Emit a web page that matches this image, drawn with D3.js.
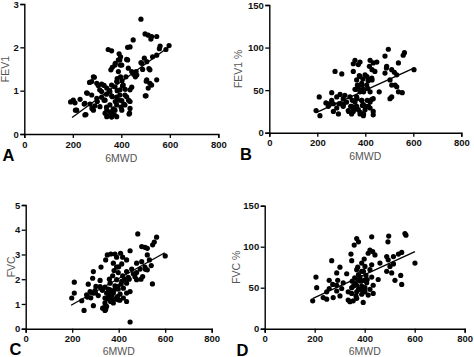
<!DOCTYPE html>
<html>
<head>
<meta charset="utf-8">
<script src="https://cdn.jsdelivr.net/npm/d3@7"></script>
<style>
  html, body { margin: 0; padding: 0; background: #fff; }
  svg { display: block; }
  .tick text { font-family: Arial, "Liberation Sans", sans-serif; font-weight: bold; font-size: 9.5px; fill: #111; }
</style>
</head>
<body>
<div id="chart"></div>
<script>
// ---------- DATA ----------
const xTicks = [0, 200, 400, 600, 800];
const xTitle = "6MWD";
const panelLetters = ["A", "B", "C", "D"];
const yTitles = ["FEV1", "FEV1 %", "FVC", "FVC %"];
const yTicksA = [0, 1, 2, 3];
const yTicksB = [0, 50, 100, 150];
const yTicksC = [0, 1, 2, 3, 4, 5];
const yTicksD = [0, 50, 100, 150];

// Panel A: 6MWD vs FEV1
const mwdA = [481,498,511,525,546,449,346,360,426,436,560,597,584,546,391,397,422,388,495,505,484,374,402,357,429,443,461,518,388,464,419,397,285,278,299,319,381,360,408,505,546,518,511,340,374,436,395,353,319,260,278,415,502,360,381,299,230,202,333,402,436,250,209,271,353,381,415,312,436,216,285,340,374,402,333,360,250,432,340,360,
  410,399,367,355,371,405,416,443,351,383,394,422,363,375,390,430,291,319,329,301,247,191,311,289,269,329,305,383,403,451,458,396,363,375,394,426,481,514,488,529,557,522,503,525,499,434,342,381,254,211,279,339,257,339];
const fev1 = [2.65,2.31,2.28,2.25,2.25,2.17,1.95,1.92,2.0,2.01,2.03,2.04,1.95,1.82,1.85,1.78,1.72,1.71,1.75,1.67,1.63,1.59,1.59,1.48,1.52,1.44,1.44,1.48,1.44,1.36,1.32,1.32,1.32,1.21,1.17,1.15,1.21,1.13,1.13,1.25,1.25,1.17,1.06,1.06,1.09,1.02,1.02,0.98,0.98,0.94,0.9,0.9,0.88,0.88,0.85,0.82,0.8,0.78,0.78,0.77,0.75,0.71,0.72,0.69,0.67,0.67,0.67,0.63,0.59,0.55,0.55,0.55,0.55,0.55,0.48,0.48,0.44,0.46,0.40,0.39,
  0.69,0.62,0.58,0.51,0.45,1.11,1.03,1.08,1.0,1.0,0.9,0.86,0.86,0.75,0.78,0.78,0.65,0.85,0.78,0.75,0.69,0.74,1.02,1.31,1.19,1.12,1.12,1.28,1.23,1.38,1.32,1.59,1.54,1.63,1.71,1.71,1.65,1.51,1.49,1.78,1.97,2.19,1.22,1.13,0.88,0.48,0.42,0.40,0.45,0.55,0.59,0.62,0.95,0.92];
const fitA = [[197, 0.38], [601, 2.03]];

// Panel B: 6MWD vs FEV1 %
const mwdB = [496,563,558,482,538,357,378,350,371,420,433,448,274,302,350,417,428,440,489,510,521,603,482,531,378,399,427,364,413,503,385,406,510,531,371,392,357,458,538,378,420,510,503,260,295,208,281,315,308,336,364,433,260,236,267,295,322,357,385,420,246,281,308,343,364,392,413,195,267,329,350,371,399,433,211,288,343,378,392,433,420,
  375,390,407,412,428,367,386,410,362,382,393,426,346,365,385,408,339,362,388,403,331,351,379,393,554,524,488,249,290,310];
const fev1p = [98,94,91,90,82,85,83,81,80,85,82,83,72,69,72,78,74,72,78,74,71,74,70,68,66,68,64,62,62,62,58,56,56,54,54,51,51,48,48,48,48,42,40,47,45,42,42,44,40,42,42,40,38,35,34,34,36,36,38,36,31,29,31,31,31,33,31,26,25,26,25,27,27,25,20,22,22,22,20,21,29,
  67,63,66,61,62,56,56,52,51,50,48,39,38,40,38,38,31,31,32,31,25,27,24,22,47,56,76,34,34,34];
const fitB = [[195, 23.5], [600, 75.5]];

// Panel C: 6MWD vs FVC
const mwdC = [482,563,553,546,499,513,523,449,600,351,366,384,408,391,417,344,434,523,532,499,477,377,413,324,391,513,492,456,523,434,477,398,463,291,374,417,441,503,496,545,288,320,391,413,209,363,434,269,302,384,341,420,327,363,398,298,277,449,348,377,406,434,262,291,209,312,363,391,341,420,198,370,398,241,291,341,348,251,331,341,449,377,434,477,
  356,370,385,395,405,360,380,395,350,365,344,338,355,410,425,380,400,360,470,445,515,540,280,265,300,320,330];
const fvc = [3.83,3.70,3.50,3.39,3.32,3.29,3.25,3.15,2.94,2.98,3.02,3.02,3.05,2.89,2.89,2.78,2.78,2.98,2.78,2.71,2.65,2.65,2.62,2.49,2.49,2.49,2.41,2.41,2.38,2.31,2.27,2.27,2.22,2.31,2.14,2.14,2.08,2.11,2.0,1.81,2.04,1.95,1.98,1.91,1.88,1.84,1.84,1.80,1.71,1.73,1.68,1.64,1.60,1.57,1.60,1.54,1.50,1.50,1.44,1.44,1.40,1.44,1.37,1.44,1.44,1.34,1.30,1.24,1.24,1.24,1.24,1.17,1.17,1.13,0.93,1.04,0.90,0.74,0.83,0.74,0.27,1.04,1.10,1.98,
  1.30,1.35,1.20,1.30,1.15,1.50,1.55,1.70,1.20,1.10,0.78,0.85,1.60,1.80,2.00,2.35,2.50,2.00,2.10,2.00,2.40,2.55,1.25,1.28,1.45,1.70,1.55];
const fitC = [[195, 0.95], [598, 3.07]];

// Panel D: 6MWD vs FVC %
const mwdD = [561,565,496,493,428,368,375,358,421,432,414,441,345,548,535,515,488,494,348,268,461,601,388,401,428,515,501,301,421,368,388,488,508,288,328,405,205,428,381,544,521,258,292,375,397,454,361,314,408,548,272,288,368,388,434,208,258,308,348,375,401,421,248,288,334,368,401,348,388,434,234,274,301,334,354,248,192,394,341,368,414,
  360,375,385,395,380,365,355,392,410,350,372,398];
const fvcp = [116,114,113,106,112,110,106,102,96,94,92,90,91,93,91,88,88,84,83,83,80,80,80,76,78,79,76,75,72,72,70,70,68,68,67,65,63,63,63,65,59,59,59,59,59,60,56,56,56,54,54,53,53,52,53,50,49,49,50,48,50,48,45,46,45,45,45,43,42,43,38,38,40,35,34,36,34,32,33,37,41,
  62,66,58,70,48,40,52,47,60,58,75,85];
const fitD = [[193, 37], [601, 94]];

// ---------- LAYOUT ----------
const W = 474, H = 357;
const svg = d3.select("#chart").append("svg")
  .attr("width", W).attr("height", H)
  .style("background", "#fff");

const panels = [
  { letter: panelLetters[0], title: yTitles[0], xs: mwdA, ys: fev1, fit: fitA, yTicks: yTicksA, yMax: 3,
    xr: [24.3, 218.3], yr: [134, 4], titleX: 8.8, titleDy: 27.5, letterPos: [2.5, 160.7] },
  { letter: panelLetters[1], title: yTitles[1], xs: mwdB, ys: fev1p, fit: fitB, yTicks: yTicksB, yMax: 150,
    xr: [269.3, 461.3], yr: [132.7, 5], titleX: 241.5, titleDy: 27.5, letterPos: [240, 160] },
  { letter: panelLetters[2], title: yTitles[2], xs: mwdC, ys: fvc, fit: fitC, yTicks: yTicksC, yMax: 5,
    xr: [25.7, 211.7], yr: [328.7, 205], titleX: 15, titleDy: 26.3, letterPos: [9.5, 355] },
  { letter: panelLetters[3], title: yTitles[3], xs: mwdD, ys: fvcp, fit: fitD, yTicks: yTicksD, yMax: 150,
    xr: [264.7, 464.7], yr: [328.7, 205.7], titleX: 239.5, titleDy: 26.3, letterPos: [236.5, 355.5] }
];

panels.forEach(p => {
  const x = d3.scaleLinear().domain([0, 800]).range(p.xr);
  const y = d3.scaleLinear().domain([0, p.yMax]).range(p.yr);
  const g = svg.append("g");

  // points
  g.append("g").selectAll("circle")
    .data(p.xs.map((v, i) => [v, p.ys[i]]))
    .join("circle")
    .attr("cx", d => x(d[0]))
    .attr("cy", d => y(d[1]))
    .attr("r", 2.6)
    .attr("fill", "#000");

  // regression line
  g.append("path")
    .attr("d", d3.line().x(d => x(d[0])).y(d => y(d[1]))(p.fit))
    .attr("stroke", "#000").attr("stroke-width", 1.3).attr("fill", "none");

  // x axis
  const xa = g.append("g")
    .attr("transform", `translate(0,${p.yr[0]})`)
    .call(d3.axisBottom(x).tickValues(xTicks).tickSize(4).tickPadding(3).tickFormat(d3.format("d")));
  // y axis
  const ya = g.append("g")
    .attr("transform", `translate(${p.xr[0]},0)`)
    .call(d3.axisLeft(y).tickValues(p.yTicks).tickSize(4).tickPadding(1.5).tickFormat(d3.format("d")));
  [xa, ya].forEach(a => {
    a.select(".domain").attr("stroke", "#000").attr("stroke-width", 1.4);
    a.selectAll(".tick line").attr("stroke", "#000").attr("stroke-width", 1.3);
  });

  // x title
  g.append("text")
    .attr("x", (p.xr[0] + p.xr[1]) / 2)
    .attr("y", p.yr[0] + p.titleDy)
    .attr("text-anchor", "middle")
    .attr("font-family", "Arial, 'Liberation Sans', sans-serif")
    .attr("font-size", 10.5)
    .attr("fill", "#555")
    .text(xTitle);

  // y title
  const cy = (p.yr[0] + p.yr[1]) / 2;
  g.append("text")
    .attr("transform", `translate(${p.titleX},${cy}) rotate(-90)`)
    .attr("text-anchor", "middle")
    .attr("font-family", "Arial, 'Liberation Sans', sans-serif")
    .attr("font-size", 10.5)
    .attr("fill", "#555")
    .text(p.title);

  // panel letter
  g.append("text")
    .attr("x", p.letterPos[0])
    .attr("y", p.letterPos[1])
    .attr("font-family", "Arial, 'Liberation Sans', sans-serif")
    .attr("font-weight", "bold")
    .attr("font-size", 16.5)
    .attr("fill", "#000")
    .text(p.letter);
});
</script>
</body>
</html>
